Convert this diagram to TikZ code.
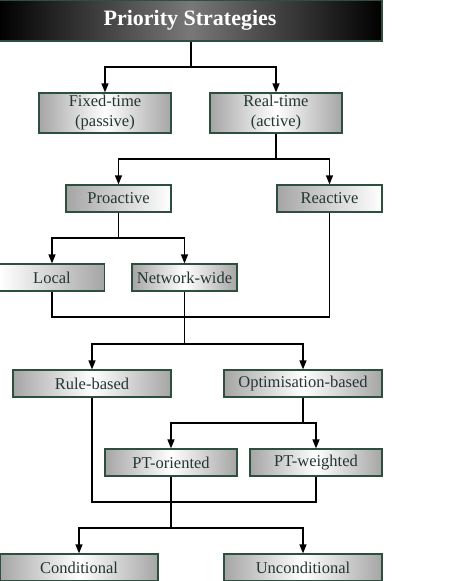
\documentclass[tikz,border=0pt]{standalone}
\usepackage{fontspec}
\setmainfont{Liberation Serif}
\usetikzlibrary{arrows.meta}
\definecolor{bordc}{RGB}{45,80,62}
\definecolor{txtc}{RGB}{35,55,48}
\definecolor{boxg}{RGB}{165,165,165}
\definecolor{titg}{RGB}{120,120,120}
\begin{document}
\begin{tikzpicture}[x=1pt,y=-1pt,
  base/.style={draw=bordc,line width=1.2pt,inner sep=0pt,text=txtc,
    font=\fontsize{16.5}{20}\selectfont,align=center},
  bxmid/.style={base,left color=boxg,right color=boxg,middle color=white},
  bxlr/.style={base,left color=boxg,right color=white},
  bxrl/.style={base,left color=white,right color=boxg},
  wide/.style={minimum width=158pt,minimum height=27pt},
  midw/.style={minimum width=132pt,minimum height=27pt},
  narw/.style={minimum width=105pt,minimum height=27pt},
  conn/.style={line width=1.3pt,black},
  arr/.style={conn,-{Triangle[length=9pt,width=7pt]}}]
\useasboundingbox (0,0) rectangle (474,581);
% nodes
\node[draw=bordc,line width=1.5pt,inner sep=0pt,minimum width=384pt,minimum height=41pt,
  left color=black,right color=black,middle color=titg,
  text=white,font=\fontsize{22}{24}\selectfont\bfseries] (title) at (190,20.5) {Priority Strategies};
\node[bxmid,minimum width=132pt,minimum height=40pt] (fixed) at (105,113) {Fixed-time\\(passive)};
\node[bxmid,minimum width=132pt,minimum height=40pt] (real) at (276,113) {Real-time\\(active)};
\node[bxlr,narw] (pro) at (118.5,198.5) {Proactive};
\node[bxlr,narw] (rea) at (329.5,198.5) {Reactive};
\node[bxrl,narw] (local) at (52,277.5) {Local};
\node[bxmid,narw] (nw) at (184.5,277.5) {Network-wide};
\node[bxmid,wide] (rule) at (92,383.5) {Rule-based};
\node[bxmid,wide] (opt) at (303,383.5) {Optimisation-based};
\node[bxmid,midw] (pto) at (171,462.5) {PT-oriented};
\node[bxmid,midw] (ptw) at (316,462.5) {PT-weighted};
\node[bxmid,wide] (cond) at (79,567.5) {Conditional};
\node[bxmid,wide] (uncond) at (303,567.5) {Unconditional};
% junctions
\coordinate (j1) at (191,67);
\coordinate (j2) at (276,159);
\coordinate (j3) at (118.5,238);
\coordinate (m1) at (184.5,317);
\coordinate (j4) at (184.5,344);
\coordinate (j5) at (303,423);
\coordinate (m2) at (171,502);
\coordinate (j6) at (171,528);
% connectors
\draw[conn] (title.south -| j1) -- (j1);
\draw[arr] (j1) -| (fixed.north);
\draw[arr] (j1) -| (real.north);
\draw[conn] (real.south) -- (j2);
\draw[arr] (j2) -| (pro.north);
\draw[arr] (j2) -| (rea.north);
\draw[conn] (pro.south) -- (j3);
\draw[arr] (j3) -| (local.north);
\draw[arr] (j3) -| (nw.north);
\draw[conn] (local.south) |- (m1);
\draw[conn] (rea.south) |- (m1);
\draw[conn] (nw.south) -- (j4);
\draw[arr] (j4) -| (rule.north);
\draw[arr] (j4) -| (opt.north);
\draw[conn] (opt.south) -- (j5);
\draw[arr] (j5) -| (pto.north);
\draw[arr] (j5) -| (ptw.north);
\draw[conn] (rule.south) |- (m2);
\draw[conn] (ptw.south) |- (m2);
\draw[conn] (pto.south) -- (j6);
\draw[arr] (j6) -| (cond.north);
\draw[arr] (j6) -| (uncond.north);
\end{tikzpicture}
\end{document}
